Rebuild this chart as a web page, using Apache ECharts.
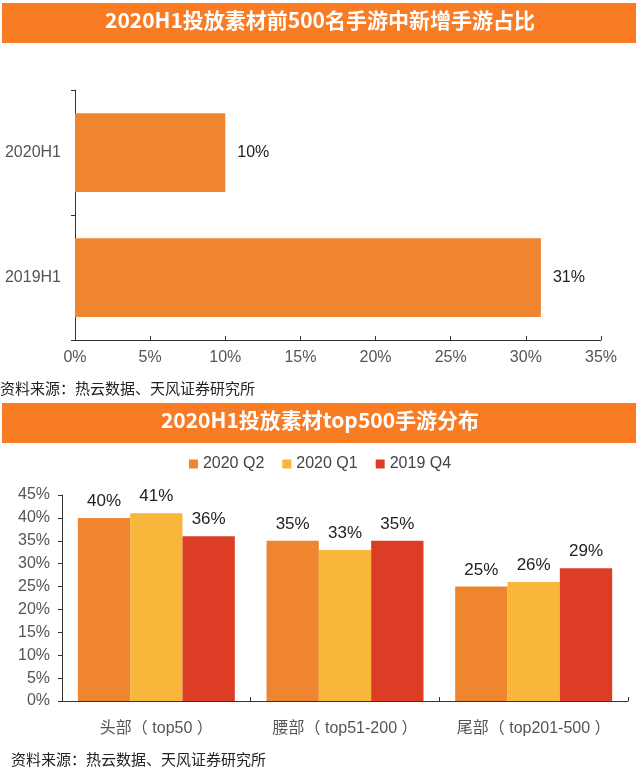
<!DOCTYPE html>
<html>
<head>
<meta charset="utf-8">
<script src="https://cdn.jsdelivr.net/npm/echarts@6/dist/echarts.min.js"></script>
<style>
  html, body { margin: 0; padding: 0; background: #fff; }
  #chart { width: 640px; height: 775px; }
</style>
</head>
<body>
<div id="chart"></div>
<script>
  // 上图：新增手游占比
  const topCategories = ['2020H1', '2019H1'];
  const topValues = [10, 31];
  const topTicks = [0, 35, 5];

  // 下图：top500 手游分布
  const bottomCategories = ['头部（ top50 ）', '腰部（ top51-200 ）', '尾部（ top201-500 ）'];
  const seriesNames = ['2020 Q2', '2020 Q1', '2019 Q4'];
  const q2Values = [40, 35, 25];
  const q1Values = [41, 33, 26];
  const q4Values = [36, 35, 29];
  const bottomTicks = [0, 45, 5];

  const FONT = 'Arial, "Liberation Sans", "Noto Sans CJK SC", sans-serif';
  const CJK = '"Noto Sans CJK SC", sans-serif';
  const colors = ['#F0852F', '#F8B73A', '#DC3D24'];
  const banner = '#F97B24';

  const chart = echarts.init(document.getElementById('chart'));

  const pct = v => v + '%';

  chart.setOption({
    animation: false,
    textStyle: { fontFamily: FONT },
    graphic: [
      { type: 'rect', shape: { x: 2, y: 3, width: 634, height: 40 }, style: { fill: banner } },
      { type: 'rect', shape: { x: 2, y: 403, width: 634, height: 40 }, style: { fill: banner } },
      {
        type: 'text', left: 'center', top: 10,
        style: { text: '2020H1投放素材前500名手游中新增手游占比', fill: '#fff', font: 'bold 21px ' + CJK }
      },
      {
        type: 'text', left: 'center', top: 410,
        style: { text: '2020H1投放素材top500手游分布', fill: '#fff', font: 'bold 21px ' + CJK }
      },
      {
        type: 'text', left: 0, top: 381,
        style: { text: '资料来源：热云数据、天风证券研究所', fill: '#222', font: '15px ' + CJK }
      },
      {
        type: 'text', left: 11, top: 752,
        style: { text: '资料来源：热云数据、天风证券研究所', fill: '#222', font: '15px ' + CJK }
      }
    ],
    legend: {
      data: seriesNames,
      top: 451,
      left: 'center',
      itemWidth: 9,
      itemHeight: 9,
      itemGap: 18,
      icon: 'rect',
      textStyle: { fontSize: 16, color: '#444', fontFamily: FONT }
    },
    grid: [
      { left: 75, top: 90, width: 526, height: 250 },
      { left: 62, top: 495, width: 566, height: 206 }
    ],
    xAxis: [
      {
        gridIndex: 0,
        type: 'value',
        min: topTicks[0], max: topTicks[1], interval: topTicks[2],
        splitLine: { show: false },
        axisLine: { show: true, lineStyle: { color: '#333' } },
        axisTick: { show: true, inside: true, length: 4, lineStyle: { color: '#333' } },
        axisLabel: { formatter: pct, fontSize: 16, color: '#555', margin: 10 }
      },
      {
        gridIndex: 1,
        type: 'category',
        data: bottomCategories,
        axisLine: { lineStyle: { color: '#333' } },
        axisTick: { show: true, inside: true, length: 4, interval: 0, lineStyle: { color: '#333' } },
        axisLabel: { interval: 0, hideOverlap: false, fontSize: 16, color: '#555', margin: 20, fontFamily: FONT }
      }
    ],
    yAxis: [
      {
        gridIndex: 0,
        type: 'category',
        inverse: true,
        data: topCategories,
        axisLine: { lineStyle: { color: '#333' } },
        axisTick: { show: true, length: 4, lineStyle: { color: '#333' } },
        axisLabel: { fontSize: 16, color: '#555', margin: 14 }
      },
      {
        gridIndex: 1,
        type: 'value',
        min: bottomTicks[0], max: bottomTicks[1], interval: bottomTicks[2],
        splitLine: { show: false },
        axisLine: { show: true, lineStyle: { color: '#333' } },
        axisTick: { show: true, length: 4, lineStyle: { color: '#333' } },
        axisLabel: { formatter: pct, fontSize: 16, color: '#555', margin: 12 }
      }
    ],
    series: [
      {
        type: 'bar',
        xAxisIndex: 0,
        yAxisIndex: 0,
        data: topValues,
        barCategoryGap: '37%',
        itemStyle: { color: colors[0] },
        label: { show: true, position: 'right', distance: 12, formatter: p => pct(p.value), fontSize: 16, color: '#222' }
      },
      {
        name: seriesNames[0],
        type: 'bar',
        xAxisIndex: 1,
        yAxisIndex: 1,
        data: q2Values,
        barGap: 0,
        barCategoryGap: '16.8%',
        itemStyle: { color: colors[0] },
        label: { show: true, position: 'top', distance: 8, formatter: p => pct(p.value), fontSize: 17, color: '#222' }
      },
      {
        name: seriesNames[1],
        type: 'bar',
        xAxisIndex: 1,
        yAxisIndex: 1,
        data: q1Values,
        barGap: 0,
        barCategoryGap: '16.8%',
        itemStyle: { color: colors[1] },
        label: { show: true, position: 'top', distance: 8, formatter: p => pct(p.value), fontSize: 17, color: '#222' }
      },
      {
        name: seriesNames[2],
        type: 'bar',
        xAxisIndex: 1,
        yAxisIndex: 1,
        data: q4Values,
        barGap: 0,
        barCategoryGap: '16.8%',
        itemStyle: { color: colors[2] },
        label: { show: true, position: 'top', distance: 8, formatter: p => pct(p.value), fontSize: 17, color: '#222' }
      }
    ]
  });
</script>
</body>
</html>
